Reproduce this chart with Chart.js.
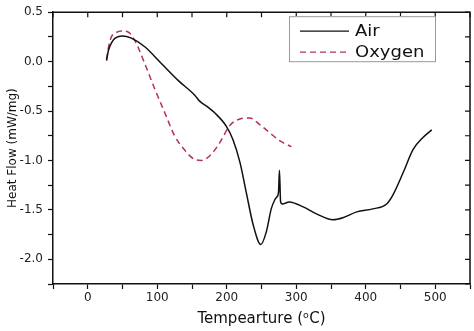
<!DOCTYPE html>
<html lang="en">
<head>
    <meta charset="UTF-8">
    <title>Heat Flow - Air vs Oxygen</title>
    <script src="https://cdn.jsdelivr.net/npm/chart.js"></script>
    <style>
        html, body { margin: 0; padding: 0; background: #fff; }
        #wrap { width: 474px; height: 331px; }
    </style>
</head>
<body>
    <div id="wrap"><canvas id="dscChart"></canvas></div>
    <script>
        // Air curve (solid black)
        const airTemp = [27, 30, 35, 40, 50, 62, 82, 106, 130, 154, 161, 173, 183, 199, 209, 219, 228, 238, 249, 257, 264, 269, 272, 274.5, 275.8, 277.5, 280, 290, 310, 329, 353, 367, 387, 410, 430, 439, 454, 468, 482, 495];
        const airFlow = [0.01, 0.12, 0.2, 0.24, 0.26, 0.24, 0.15, -0.02, -0.19, -0.34, -0.40, -0.46, -0.52, -0.65, -0.79, -1.02, -1.32, -1.65, -1.85, -1.72, -1.49, -1.40, -1.37, -1.32, -1.10, -1.42, -1.44, -1.42, -1.47, -1.54, -1.60, -1.58, -1.52, -1.49, -1.44, -1.35, -1.12, -0.89, -0.77, -0.69];

        // Oxygen curve (dashed red)
        const oxyTemp = [27, 30, 34, 40, 48, 58, 68, 82, 96, 111, 125, 140, 154, 164, 176, 190, 204, 219, 233, 248, 262, 276, 293];
        const oxyFlow = [0.02, 0.15, 0.25, 0.29, 0.31, 0.30, 0.21, -0.02, -0.27, -0.52, -0.75, -0.90, -0.99, -1.00, -0.95, -0.82, -0.65, -0.58, -0.57, -0.64, -0.72, -0.80, -0.86];

        const seriesNames = ['Air', 'Oxygen'];
        const xLabelTicks = [0, 100, 200, 300, 400, 500];
        const yLabelTicks = [0.5, 0.0, -0.5, -1.0, -1.5, -2.0];

        const toPoints = (xs, ys) => xs.map((x, i) => ({ x: x, y: ys[i] }));

        // cadre + graduations internes en haut et à droite
        const framePlugin = {
            id: 'frame',
            afterDatasetsDraw(chart) {
                const { ctx, chartArea: a, scales } = chart;
                ctx.save();
                ctx.strokeStyle = '#111';
                ctx.lineWidth = 1.5;
                ctx.beginPath();
                ctx.moveTo(a.left, a.top);
                ctx.lineTo(a.right, a.top);
                ctx.lineTo(a.right, a.bottom);
                ctx.stroke();
                ctx.lineWidth = 1.2;
                ctx.beginPath();
                scales.x.ticks.forEach(t => {
                    const px = scales.x.getPixelForValue(t.value);
                    ctx.moveTo(px, a.top);
                    ctx.lineTo(px, a.top + 5);
                });
                scales.y.ticks.forEach(t => {
                    const py = scales.y.getPixelForValue(t.value);
                    ctx.moveTo(a.right, py);
                    ctx.lineTo(a.right - 5, py);
                });
                ctx.stroke();
                ctx.restore();
            }
        };

        // légende encadrée dans la zone du graphique
        const boxLegend = {
            id: 'boxLegend',
            afterDraw(chart) {
                const { ctx, chartArea: a } = chart;
                const bx = a.right - 181, by = a.top + 4, bw = 146, bh = 45;
                ctx.save();
                ctx.fillStyle = '#fff';
                ctx.fillRect(bx, by, bw, bh);
                ctx.strokeStyle = '#999';
                ctx.lineWidth = 1;
                ctx.strokeRect(bx + 0.5, by + 0.5, bw, bh);
                chart.data.datasets.forEach((ds, i) => {
                    const ly = by + 15 + i * 21;
                    ctx.strokeStyle = ds.borderColor;
                    ctx.lineWidth = 1.3;
                    ctx.setLineDash(ds.borderDash || []);
                    ctx.beginPath();
                    ctx.moveTo(bx + 11, ly);
                    ctx.lineTo(bx + 60, ly);
                    ctx.stroke();
                    ctx.setLineDash([]);
                    ctx.save();
                    ctx.translate(bx + 66, ly);
                    ctx.scale(1.2, 1);
                    ctx.fillStyle = '#111';
                    ctx.font = '15px "DejaVu Sans"';
                    ctx.textBaseline = 'middle';
                    ctx.fillText(ds.label, 0, 1);
                    ctx.restore();
                });
                ctx.restore();
            }
        };

        const ctx = document.getElementById('dscChart').getContext('2d');
        const dscChart = new Chart(ctx, {
            type: 'line',
            data: {
                datasets: [
                    {
                        label: seriesNames[0],
                        data: toPoints(airTemp, airFlow),
                        borderColor: '#111111',
                        borderWidth: 1.5,
                        pointRadius: 0,
                        cubicInterpolationMode: 'monotone',
                        fill: false
                    },
                    {
                        label: seriesNames[1],
                        data: toPoints(oxyTemp, oxyFlow),
                        borderColor: '#b3325a',
                        borderWidth: 1.5,
                        borderDash: [6, 4],
                        pointRadius: 0,
                        cubicInterpolationMode: 'monotone',
                        fill: false
                    }
                ]
            },
            options: {
                responsive: true,
                maintainAspectRatio: false,
                animation: false,
                layout: { padding: { top: 9, right: 4, left: 0, bottom: 0 } },
                plugins: {
                    legend: { display: false },
                    tooltip: { enabled: false }
                },
                scales: {
                    x: {
                        type: 'linear',
                        min: -50,
                        max: 550,
                        afterFit: (scale) => { scale.height = 47; },
                        border: { display: true, color: '#111', width: 1.5 },
                        grid: { drawOnChartArea: false, drawTicks: true, tickLength: 5, tickColor: '#111', tickWidth: 1.2 },
                        ticks: {
                            stepSize: 50,
                            padding: 2,
                            color: '#222',
                            font: { family: 'DejaVu Sans', size: 12 },
                            maxRotation: 0,
                            autoSkip: false,
                            callback: (v) => xLabelTicks.includes(v) ? String(v) : ''
                        },
                        title: {
                            display: true,
                            text: 'Tempearture (ᵒC)',
                            color: '#111',
                            font: { family: 'DejaVu Sans', size: 15 },
                            padding: { top: 0, bottom: 3 }
                        }
                    },
                    y: {
                        type: 'linear',
                        min: -2.25,
                        max: 0.5,
                        afterFit: (scale) => { scale.width = 53; },
                        border: { display: true, color: '#111', width: 1.5 },
                        grid: { drawOnChartArea: false, drawTicks: true, tickLength: 5, tickColor: '#111', tickWidth: 1.2 },
                        ticks: {
                            stepSize: 0.25,
                            padding: 5,
                            color: '#222',
                            font: { family: 'DejaVu Sans', size: 12 },
                            autoSkip: false,
                            callback: (v) => {
                                const r = Math.round(v * 100) / 100;
                                return yLabelTicks.includes(r) ? r.toFixed(1) : '';
                            }
                        },
                        title: {
                            display: true,
                            text: 'Heat Flow (mW/mg)',
                            color: '#111',
                            font: { family: 'DejaVu Sans', size: 12 },
                            padding: { top: 6, bottom: 0 }
                        }
                    }
                }
            },
            plugins: [framePlugin, boxLegend]
        });
    </script>
</body>
</html>
